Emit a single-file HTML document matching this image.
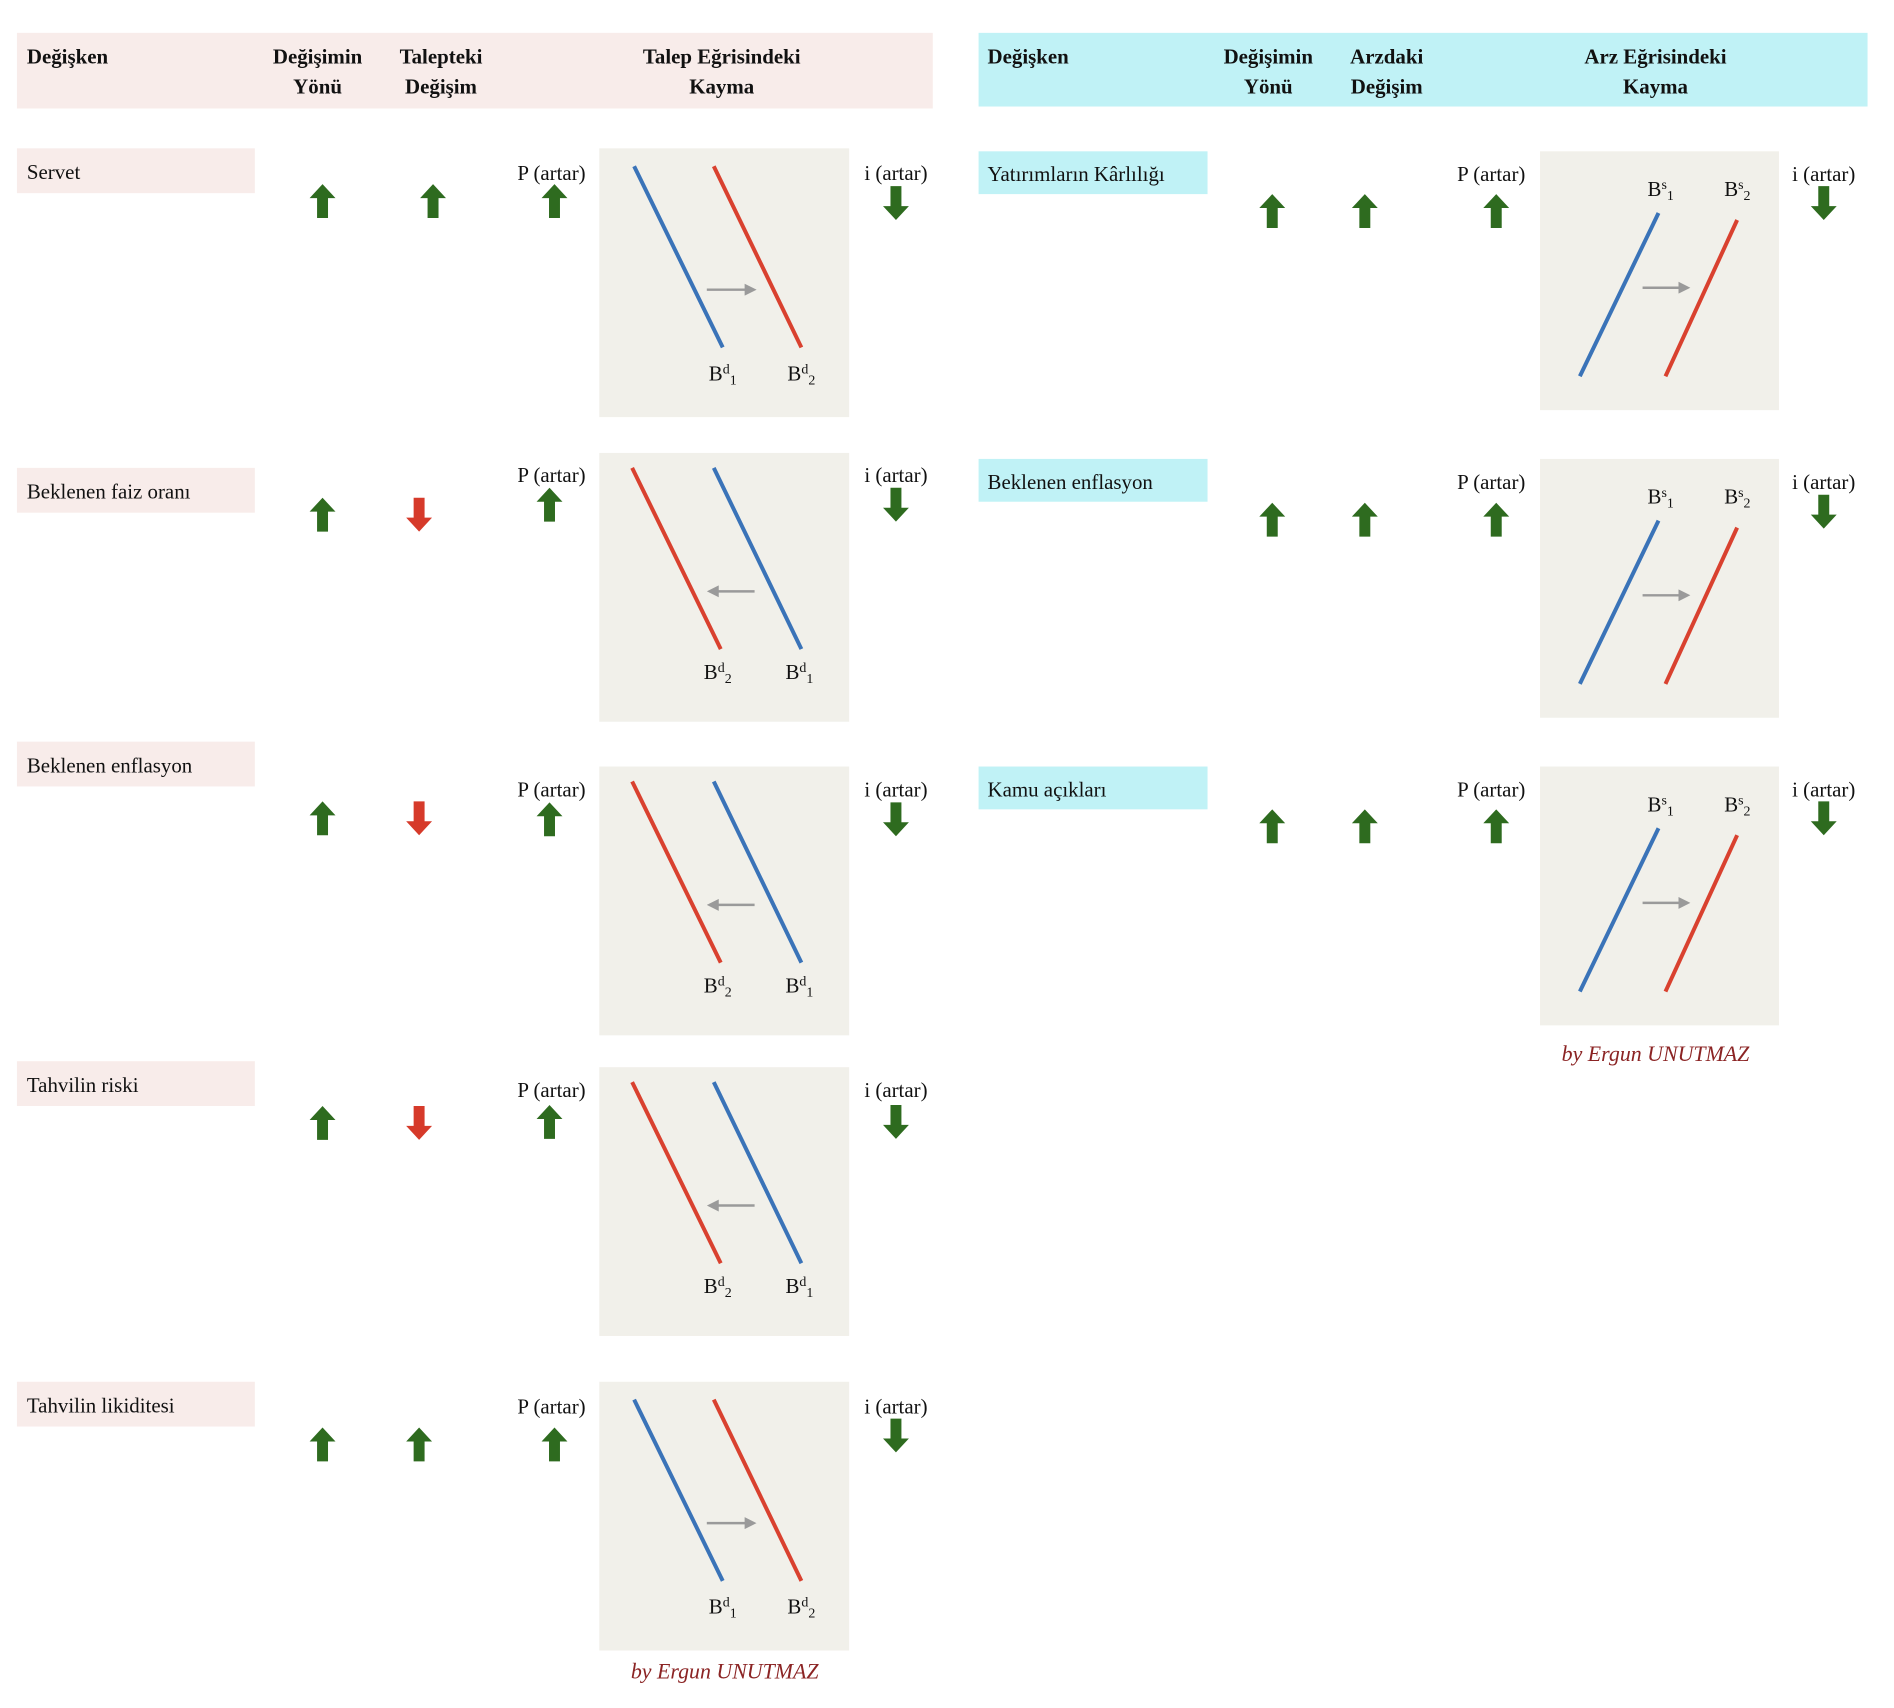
<!DOCTYPE html>
<html><head><meta charset="utf-8"><style>
html,body{margin:0;padding:0;background:#fff;}
svg{display:block;font-family:"Liberation Serif",serif;}
.h{font-weight:bold;font-size:21px;fill:#111;}
.t{font-size:21px;fill:#111;}
.w{font-style:italic;font-size:22px;fill:#8b2424;}
</style></head><body>
<svg width="1894" height="1708" viewBox="0 0 1894 1708" xmlns="http://www.w3.org/2000/svg">
<defs>
<path id="up" d="M0,-17 L13,-3 L5.5,-3 L5.5,17 L-5.5,17 L-5.5,-3 L-13,-3 Z"/>
<path id="dn" d="M0,17 L13,3 L5.5,3 L5.5,-17 L-5.5,-17 L-5.5,3 L-13,3 Z"/>
<marker id="ah" markerWidth="12" markerHeight="12" refX="9" refY="6" orient="auto" markerUnits="userSpaceOnUse"><path d="M0,0 L12,6 L0,12 Z" fill="#9a9a9a"/></marker>
</defs>
<g transform="scale(0.9955)">
<rect x="17" y="33" width="920" height="76" fill="#f8ecea"/>
<text class="h" x="27" y="64">Değişken</text>
<text class="h" x="319" y="64" text-anchor="middle">Değişimin</text><text class="h" x="319" y="94" text-anchor="middle">Yönü</text>
<text class="h" x="443" y="64" text-anchor="middle">Talepteki</text><text class="h" x="443" y="94" text-anchor="middle">Değişim</text>
<text class="h" x="725" y="64" text-anchor="middle">Talep Eğrisindeki</text><text class="h" x="725" y="94" text-anchor="middle">Kayma</text>
<rect x="983" y="33" width="893" height="74" fill="#c0f2f6"/>
<text class="h" x="992" y="64">Değişken</text>
<text class="h" x="1274" y="64" text-anchor="middle">Değişimin</text><text class="h" x="1274" y="94" text-anchor="middle">Yönü</text>
<text class="h" x="1393" y="64" text-anchor="middle">Arzdaki</text><text class="h" x="1393" y="94" text-anchor="middle">Değişim</text>
<text class="h" x="1663" y="64" text-anchor="middle">Arz Eğrisindeki</text><text class="h" x="1663" y="94" text-anchor="middle">Kayma</text>

<g>
<rect x="17" y="149" width="239" height="45" fill="#f8ecea"/><text class="t" x="27" y="180">Servet</text>
<use href="#up" x="324" y="202" fill="#2e6b1f"/><use href="#up" x="435" y="202" fill="#2e6b1f"/>
<text class="t" x="554" y="181" text-anchor="middle">P (artar)</text><use href="#up" x="557" y="202" fill="#2e6b1f"/>
<text class="t" x="900" y="181" text-anchor="middle">i (artar)</text><use href="#dn" x="900" y="204" fill="#2e6b1f"/>
<g transform="translate(602,149)"><rect width="251" height="270" fill="#f1f0ea"/>
<line x1="35" y1="18" x2="124" y2="200" stroke="#3a73b8" stroke-width="4"/>
<line x1="115" y1="18" x2="203" y2="200" stroke="#d9412f" stroke-width="4"/>
<line x1="108" y1="142" x2="155" y2="142" stroke="#9a9a9a" stroke-width="2.5" marker-end="url(#ah)"/>
<text class="t" x="110" y="233">B<tspan font-size="14" dy="-7">d</tspan><tspan font-size="14" dy="11">1</tspan></text>
<text class="t" x="189" y="233">B<tspan font-size="14" dy="-7">d</tspan><tspan font-size="14" dy="11">2</tspan></text>
</g></g>

<g>
<rect x="17" y="470" width="239" height="45" fill="#f8ecea"/><text class="t" x="27" y="501">Beklenen faiz oranı</text>
<use href="#up" x="324" y="517" fill="#2e6b1f"/><use href="#dn" x="421" y="517" fill="#d63a2a"/>
<text class="t" x="554" y="484" text-anchor="middle">P (artar)</text><use href="#up" x="552" y="507" fill="#2e6b1f"/>
<text class="t" x="900" y="484" text-anchor="middle">i (artar)</text><use href="#dn" x="900" y="507" fill="#2e6b1f"/>
<g transform="translate(602,455)"><rect width="251" height="270" fill="#f1f0ea"/>
<line x1="33" y1="15" x2="122" y2="197" stroke="#d9412f" stroke-width="4"/>
<line x1="115" y1="15" x2="203" y2="197" stroke="#3a73b8" stroke-width="4"/>
<line x1="156" y1="139" x2="111" y2="139" stroke="#9a9a9a" stroke-width="2.5" marker-end="url(#ah)"/>
<text class="t" x="105" y="227">B<tspan font-size="14" dy="-7">d</tspan><tspan font-size="14" dy="11">2</tspan></text>
<text class="t" x="187" y="227">B<tspan font-size="14" dy="-7">d</tspan><tspan font-size="14" dy="11">1</tspan></text>
</g></g>

<g>
<rect x="17" y="745" width="239" height="45" fill="#f8ecea"/><text class="t" x="27" y="776">Beklenen enflasyon</text>
<use href="#up" x="324" y="822" fill="#2e6b1f"/><use href="#dn" x="421" y="822" fill="#d63a2a"/>
<text class="t" x="554" y="800" text-anchor="middle">P (artar)</text><use href="#up" x="552" y="823" fill="#2e6b1f"/>
<text class="t" x="900" y="800" text-anchor="middle">i (artar)</text><use href="#dn" x="900" y="823" fill="#2e6b1f"/>
<g transform="translate(602,770)"><rect width="251" height="270" fill="#f1f0ea"/>
<line x1="33" y1="15" x2="122" y2="197" stroke="#d9412f" stroke-width="4"/>
<line x1="115" y1="15" x2="203" y2="197" stroke="#3a73b8" stroke-width="4"/>
<line x1="156" y1="139" x2="111" y2="139" stroke="#9a9a9a" stroke-width="2.5" marker-end="url(#ah)"/>
<text class="t" x="105" y="227">B<tspan font-size="14" dy="-7">d</tspan><tspan font-size="14" dy="11">2</tspan></text>
<text class="t" x="187" y="227">B<tspan font-size="14" dy="-7">d</tspan><tspan font-size="14" dy="11">1</tspan></text>
</g></g>

<g>
<rect x="17" y="1066" width="239" height="45" fill="#f8ecea"/><text class="t" x="27" y="1097">Tahvilin riski</text>
<use href="#up" x="324" y="1128" fill="#2e6b1f"/><use href="#dn" x="421" y="1128" fill="#d63a2a"/>
<text class="t" x="554" y="1102" text-anchor="middle">P (artar)</text><use href="#up" x="552" y="1127" fill="#2e6b1f"/>
<text class="t" x="900" y="1102" text-anchor="middle">i (artar)</text><use href="#dn" x="900" y="1127" fill="#2e6b1f"/>
<g transform="translate(602,1072)"><rect width="251" height="270" fill="#f1f0ea"/>
<line x1="33" y1="15" x2="122" y2="197" stroke="#d9412f" stroke-width="4"/>
<line x1="115" y1="15" x2="203" y2="197" stroke="#3a73b8" stroke-width="4"/>
<line x1="156" y1="139" x2="111" y2="139" stroke="#9a9a9a" stroke-width="2.5" marker-end="url(#ah)"/>
<text class="t" x="105" y="227">B<tspan font-size="14" dy="-7">d</tspan><tspan font-size="14" dy="11">2</tspan></text>
<text class="t" x="187" y="227">B<tspan font-size="14" dy="-7">d</tspan><tspan font-size="14" dy="11">1</tspan></text>
</g></g>

<g>
<rect x="17" y="1388" width="239" height="45" fill="#f8ecea"/><text class="t" x="27" y="1419">Tahvilin likiditesi</text>
<use href="#up" x="324" y="1451" fill="#2e6b1f"/><use href="#up" x="421" y="1451" fill="#2e6b1f"/>
<text class="t" x="554" y="1420" text-anchor="middle">P (artar)</text><use href="#up" x="557" y="1451" fill="#2e6b1f"/>
<text class="t" x="900" y="1420" text-anchor="middle">i (artar)</text><use href="#dn" x="900" y="1442" fill="#2e6b1f"/>
<g transform="translate(602,1388)"><rect width="251" height="270" fill="#f1f0ea"/>
<line x1="35" y1="18" x2="124" y2="200" stroke="#3a73b8" stroke-width="4"/>
<line x1="115" y1="18" x2="203" y2="200" stroke="#d9412f" stroke-width="4"/>
<line x1="108" y1="142" x2="155" y2="142" stroke="#9a9a9a" stroke-width="2.5" marker-end="url(#ah)"/>
<text class="t" x="110" y="233">B<tspan font-size="14" dy="-7">d</tspan><tspan font-size="14" dy="11">1</tspan></text>
<text class="t" x="189" y="233">B<tspan font-size="14" dy="-7">d</tspan><tspan font-size="14" dy="11">2</tspan></text>
</g></g>
<text class="w" x="728" y="1686" text-anchor="middle">by Ergun UNUTMAZ</text>

<g>
<rect x="983" y="152" width="230" height="43" fill="#c0f2f6"/><text class="t" x="992" y="182">Yatırımların Kârlılığı</text>
<use href="#up" x="1278" y="212" fill="#2e6b1f"/><use href="#up" x="1371" y="212" fill="#2e6b1f"/>
<text class="t" x="1498" y="182" text-anchor="middle">P (artar)</text><use href="#up" x="1503" y="212" fill="#2e6b1f"/>
<text class="t" x="1832" y="182" text-anchor="middle">i (artar)</text><use href="#dn" x="1832" y="204" fill="#2e6b1f"/>
<g transform="translate(1547,152)"><rect width="240" height="260" fill="#f1f0ea"/>
<line x1="40" y1="226" x2="119" y2="62" stroke="#3a73b8" stroke-width="4"/>
<line x1="126" y1="226" x2="198" y2="69" stroke="#d9412f" stroke-width="4"/>
<line x1="103" y1="137" x2="148" y2="137" stroke="#9a9a9a" stroke-width="2.5" marker-end="url(#ah)"/>
<text class="t" x="108" y="45">B<tspan font-size="14" dy="-7">s</tspan><tspan font-size="14" dy="11">1</tspan></text>
<text class="t" x="185" y="45">B<tspan font-size="14" dy="-7">s</tspan><tspan font-size="14" dy="11">2</tspan></text>
</g></g>

<g>
<rect x="983" y="461" width="230" height="43" fill="#c0f2f6"/><text class="t" x="992" y="491">Beklenen enflasyon</text>
<use href="#up" x="1278" y="522" fill="#2e6b1f"/><use href="#up" x="1371" y="522" fill="#2e6b1f"/>
<text class="t" x="1498" y="491" text-anchor="middle">P (artar)</text><use href="#up" x="1503" y="522" fill="#2e6b1f"/>
<text class="t" x="1832" y="491" text-anchor="middle">i (artar)</text><use href="#dn" x="1832" y="514" fill="#2e6b1f"/>
<g transform="translate(1547,461)"><rect width="240" height="260" fill="#f1f0ea"/>
<line x1="40" y1="226" x2="119" y2="62" stroke="#3a73b8" stroke-width="4"/>
<line x1="126" y1="226" x2="198" y2="69" stroke="#d9412f" stroke-width="4"/>
<line x1="103" y1="137" x2="148" y2="137" stroke="#9a9a9a" stroke-width="2.5" marker-end="url(#ah)"/>
<text class="t" x="108" y="45">B<tspan font-size="14" dy="-7">s</tspan><tspan font-size="14" dy="11">1</tspan></text>
<text class="t" x="185" y="45">B<tspan font-size="14" dy="-7">s</tspan><tspan font-size="14" dy="11">2</tspan></text>
</g></g>

<g>
<rect x="983" y="770" width="230" height="43" fill="#c0f2f6"/><text class="t" x="992" y="800">Kamu açıkları</text>
<use href="#up" x="1278" y="830" fill="#2e6b1f"/><use href="#up" x="1371" y="830" fill="#2e6b1f"/>
<text class="t" x="1498" y="800" text-anchor="middle">P (artar)</text><use href="#up" x="1503" y="830" fill="#2e6b1f"/>
<text class="t" x="1832" y="800" text-anchor="middle">i (artar)</text><use href="#dn" x="1832" y="822" fill="#2e6b1f"/>
<g transform="translate(1547,770)"><rect width="240" height="260" fill="#f1f0ea"/>
<line x1="40" y1="226" x2="119" y2="62" stroke="#3a73b8" stroke-width="4"/>
<line x1="126" y1="226" x2="198" y2="69" stroke="#d9412f" stroke-width="4"/>
<line x1="103" y1="137" x2="148" y2="137" stroke="#9a9a9a" stroke-width="2.5" marker-end="url(#ah)"/>
<text class="t" x="108" y="45">B<tspan font-size="14" dy="-7">s</tspan><tspan font-size="14" dy="11">1</tspan></text>
<text class="t" x="185" y="45">B<tspan font-size="14" dy="-7">s</tspan><tspan font-size="14" dy="11">2</tspan></text>
</g></g>
<text class="w" x="1663" y="1066" text-anchor="middle">by Ergun UNUTMAZ</text>
</g>
</svg>
</body></html>
